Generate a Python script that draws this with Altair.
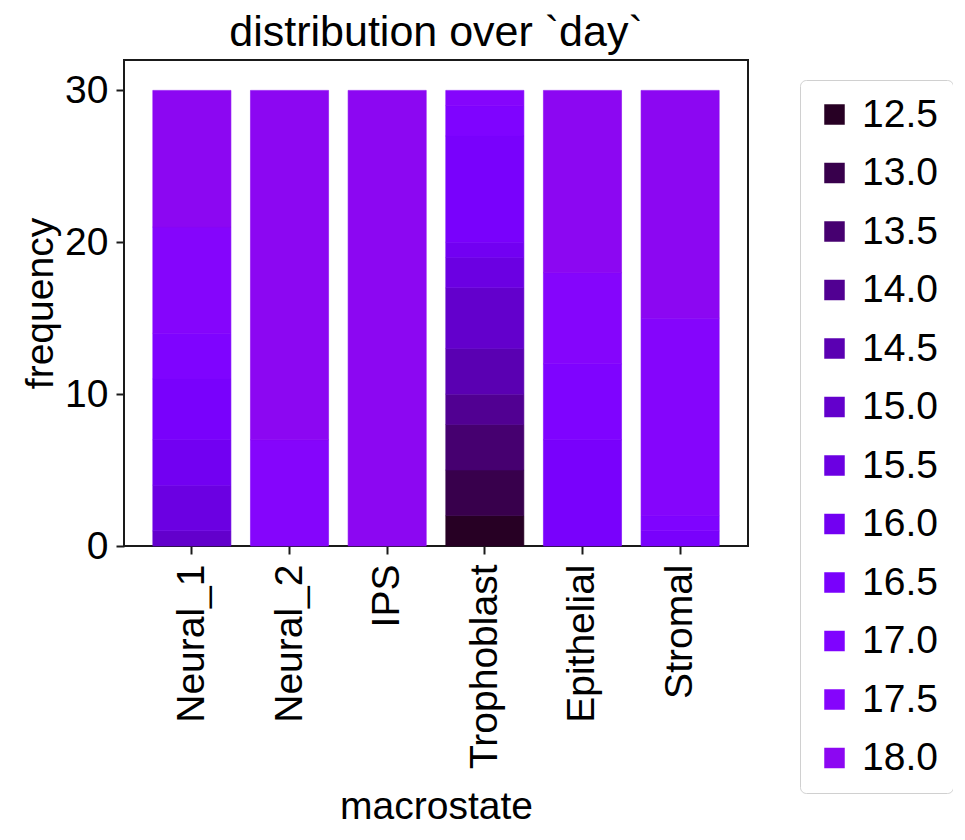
import altair as alt
import pandas as pd

macrostates = ["Neural_1", "Neural_2", "IPS", "Trophoblast", "Epithelial", "Stromal"]
days = ["12.5", "13.0", "13.5", "14.0", "14.5", "15.0", "15.5", "16.0", "16.5", "17.0", "17.5", "18.0"]
day_colors = ["#270024", "#38004c", "#460070", "#510092", "#5a00b2", "#6300cc",
              "#6b00e2", "#7200f2", "#7901fc", "#7f03ff", "#8505fc", "#8c07f2"]

# counts per day (12.5 ... 18.0) for each macrostate
neural_1 = [0, 0, 0, 0, 0, 1, 3, 3, 4, 3, 7, 9]
neural_2 = [0, 0, 0, 0, 0, 0, 0, 0, 0, 0, 7, 23]
ips = [0, 0, 0, 0, 0, 0, 0, 0, 0, 0, 0, 30]
trophoblast = [2, 3, 3, 2, 3, 4, 2, 1, 7, 2, 1, 0]
epithelial = [0, 0, 0, 0, 0, 0, 0, 0, 7, 5, 6, 12]
stromal = [0, 0, 0, 0, 0, 0, 0, 0, 1, 1, 13, 15]

series = [neural_1, neural_2, ips, trophoblast, epithelial, stromal]
rows = []
for m, counts in zip(macrostates, series):
    for i, (d, c) in enumerate(zip(days, counts)):
        if c > 0:
            rows.append({"macrostate": m, "day": d, "order": i, "frequency": c})
df = pd.DataFrame(rows)

FONT = "Liberation Sans"
FS = 39
color_scale = alt.Scale(domain=days, range=day_colors)

chart = alt.Chart(df).mark_bar(strokeWidth=0.6).encode(
    x=alt.X("macrostate:N", sort=macrostates,
            scale=alt.Scale(paddingInner=0.2, paddingOuter=0.295),
            axis=alt.Axis(title="macrostate", labelAngle=270, labelFontSize=FS,
                          titleFontSize=FS, labelFont=FONT, titleFont=FONT,
                          labelColor="black", titleColor="black", titleFontWeight="normal",
                          domain=False, tickColor="#1a1a1a", tickWidth=2, tickSize=8,
                          labelPadding=10, labelLimit=0,
                          titleY=272, titleBaseline="alphabetic")),
    y=alt.Y("frequency:Q", stack="zero",
            scale=alt.Scale(domain=[0, 32], nice=False),
            axis=alt.Axis(title="frequency", values=[0, 10, 20, 30], labelFontSize=FS,
                          titleFontSize=FS, labelFont=FONT, titleFont=FONT,
                          labelColor="black", titleColor="black", titleFontWeight="normal",
                          domain=False, grid=False, tickColor="#1a1a1a", tickWidth=2,
                          tickSize=8, labelPadding=8, titlePadding=4)),
    color=alt.Color("day:N", sort=days, scale=color_scale,
                    legend=alt.Legend(title=None, orient="none", legendX=676, legendY=20,
                                      symbolType="square", symbolSize=420,
                                      symbolStrokeWidth=0, labelFontSize=FS, labelFont=FONT,
                                      labelColor="black", labelOffset=8, rowPadding=18.5,
                                      padding=15, strokeColor="#d0d0d0", cornerRadius=6,
                                      fillColor="white", labelLimit=0)),
    stroke=alt.Stroke("day:N", sort=days, scale=color_scale, legend=None),
    order=alt.Order("order:Q", sort="ascending"),
).properties(
    width=624,
    height=486,
    title=alt.TitleParams("distribution over `day`", fontSize=43, font=FONT,
                          fontWeight="normal", color="black", anchor="middle", offset=5),
    padding={"left": 116, "top": 52, "right": 205, "bottom": 280},
    autosize=alt.AutoSizeParams(type="none"),
).configure_view(
    stroke="#1a1a1a", strokeWidth=2
)

chart.save("out.html", embed_options={"renderer": "svg", "actions": False})
